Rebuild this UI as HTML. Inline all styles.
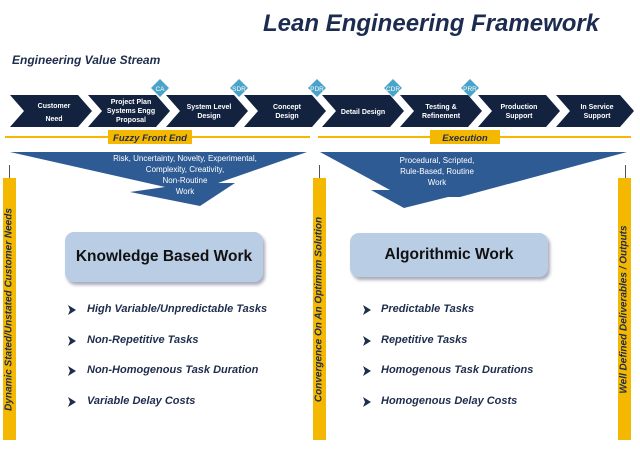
<!DOCTYPE html>
<html><head><style>
body{margin:0;width:640px;height:450px;background:#fff;overflow:hidden;position:relative;font-family:"Liberation Sans",sans-serif}
.a{position:absolute}
.t{font-weight:bold;font-style:italic;color:#1f2d4d}
.vb{position:absolute;width:13px;height:262px;top:178px;background:#f5b800}
.vt{position:absolute;transform:rotate(-90deg);white-space:nowrap;font-size:10px;font-style:italic;font-weight:bold;color:#1f2d4d;text-align:center;width:262px;line-height:13px}
.box{position:absolute;background:#b9cde5;border-radius:9px;box-shadow:2px 3px 3px #aab;font-weight:bold;font-size:15.5px;color:#111;text-align:center}
.bl{position:absolute;font-size:11px;font-weight:bold;font-style:italic;color:#1f2d4d}
</style></head><body>
<div class="a t" style="left:263px;top:10px;font-size:24px;color:#1c2b50">Lean Engineering Framework</div>
<div class="a t" style="left:12px;top:53px;font-size:12px">Engineering Value Stream</div>
<svg class="a" style="left:0;top:0" width="640" height="450">
<g fill="#12223f">
<polygon points="10,95 78,95 92,111 78,127 10,127 24,111"/>
<polygon points="88,95 156,95 170,111 156,127 88,127 102,111"/>
<polygon points="166,95 234,95 248,111 234,127 166,127 180,111"/>
<polygon points="244,95 312,95 326,111 312,127 244,127 258,111"/>
<polygon points="322,95 390,95 404,111 390,127 322,127 336,111"/>
<polygon points="400,95 468,95 482,111 468,127 400,127 414,111"/>
<polygon points="478,95 546,95 560,111 546,127 478,127 492,111"/>
<polygon points="556,95 620,95 634,111 620,127 556,127 570,111"/>
</g>
<g fill="#4aa3c8">
<polygon points="160,79 169,88 160,97 151,88"/>
<polygon points="239,79 248,88 239,97 230,88"/>
<polygon points="317,79 326,88 317,97 308,88"/>
<polygon points="393,79 402,88 393,97 384,88"/>
<polygon points="470,79 479,88 470,97 461,88"/>
</g>
<g fill="#fff" font-size="6.5" text-anchor="middle" font-family="Liberation Sans">
<text x="160" y="91">CA</text><text x="239" y="91">SDR</text><text x="317" y="91">PDR</text><text x="393" y="91">CDR</text><text x="470" y="91">PRR</text>
</g>
<g fill="#fff" font-size="7" text-anchor="middle" font-family="Liberation Sans" font-weight="bold">
<text x="54" y="108">Customer</text><text x="54" y="121">Need</text>
<text x="131" y="104">Project Plan</text><text x="131" y="113">Systems Engg</text><text x="131" y="122">Proposal</text>
<text x="209" y="109">System Level</text><text x="209" y="118">Design</text>
<text x="287" y="109">Concept</text><text x="287" y="118">Design</text>
<text x="363" y="114">Detail Design</text>
<text x="441" y="109">Testing &amp;</text><text x="441" y="118">Refinement</text>
<text x="519" y="109">Production</text><text x="519" y="118">Support</text>
<text x="597" y="109">In Service</text><text x="597" y="118">Support</text>
</g>
<rect x="5" y="136" width="305" height="2" fill="#f5b800"/>
<rect x="318" y="136" width="313" height="2" fill="#f5b800"/>
<rect x="108" y="130" width="84" height="14" fill="#f5b800"/>
<rect x="430" y="130" width="70" height="14" fill="#f5b800"/>
<text x="150" y="141" text-anchor="middle" font-size="9.5" font-style="italic" font-weight="bold" fill="#1f2d4d" font-family="Liberation Sans">Fuzzy Front End</text>
<text x="465" y="141" text-anchor="middle" font-size="9.5" font-style="italic" font-weight="bold" fill="#1f2d4d" font-family="Liberation Sans">Execution</text>
<polygon points="10,152 307,152 218,183 235,183 200,206 130,192 165,187" fill="#2f5b94"/>
<polygon points="320,152 627,152 460,197 448,197 404,208 371,190 390,190" fill="#2f5b94"/>
<g fill="#fff" font-size="8" text-anchor="middle" font-family="Liberation Sans">
<text x="185" y="161">Risk, Uncertainty, Novelty, Experimental,</text>
<text x="185" y="172">Complexity, Creativity,</text>
<text x="185" y="183">Non-Routine</text>
<text x="185" y="194">Work</text>
<text x="437" y="163">Procedural, Scripted,</text>
<text x="437" y="174">Rule-Based, Routine</text>
<text x="437" y="185">Work</text>
</g>
<g fill="#555"><rect x="9" y="165" width="1" height="13"/><rect x="319" y="165" width="1" height="13"/><rect x="625" y="165" width="1" height="13"/></g>
<g fill="#1f2d4d">
<polygon points="68,305 76,310 68,315 70,310"/><polygon points="68,336 76,341 68,346 70,341"/><polygon points="68,366 76,371 68,376 70,371"/><polygon points="68,397 76,402 68,407 70,402"/>
<polygon points="363,305 371,310 363,315 365,310"/><polygon points="363,336 371,341 363,346 365,341"/><polygon points="363,366 371,371 363,376 365,371"/><polygon points="363,397 371,402 363,407 365,402"/>
</g>
</svg>
<div class="vb" style="left:3px"></div><div class="vb" style="left:313px"></div><div class="vb" style="left:618px"></div>
<div class="vt" style="left:-122px;top:303px">Dynamic Stated/Unstated Customer Needs</div>
<div class="vt" style="left:188px;top:303px">Convergence On An Optimum Solution</div>
<div class="vt" style="left:493px;top:303px">Well Defined Deliverables / Outputs</div>
<div class="box" style="left:65px;top:232px;width:198px;height:50px;line-height:50px">Knowledge Based Work</div>
<div class="box" style="left:350px;top:233px;width:198px;height:44px;line-height:44px">Algorithmic Work</div>
<div class="bl" style="left:87px;top:303px">High Variable/Unpredictable Tasks</div>
<div class="bl" style="left:87px;top:334px">Non-Repetitive Tasks</div>
<div class="bl" style="left:87px;top:364px">Non-Homogenous Task Duration</div>
<div class="bl" style="left:87px;top:395px">Variable Delay Costs</div>
<div class="bl" style="left:381px;top:303px">Predictable Tasks</div>
<div class="bl" style="left:381px;top:334px">Repetitive Tasks</div>
<div class="bl" style="left:381px;top:364px">Homogenous Task Durations</div>
<div class="bl" style="left:381px;top:395px">Homogenous Delay Costs</div>
</body></html>
